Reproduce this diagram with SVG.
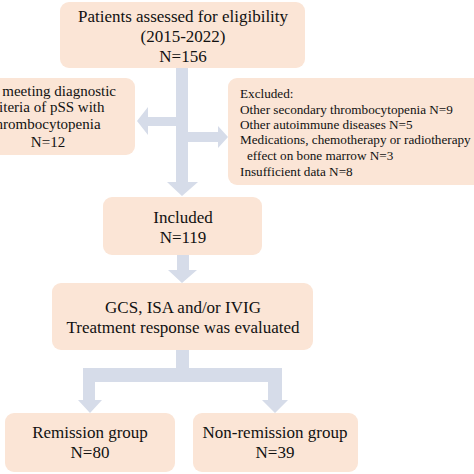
<svg xmlns="http://www.w3.org/2000/svg" width="474" height="474" viewBox="0 0 474 474">
<style>
.box{fill:#fbe5d6;}
.arr{fill:#d6dce9;}
text{font-family:"Liberation Serif","Times New Roman",serif;fill:#111;}
.t17{font-size:17px;text-anchor:middle;}
.t13{font-size:13.2px;}
.t15{font-size:15px;text-anchor:middle;}
</style>
<rect width="474" height="474" fill="#ffffff"/>
<g id="connectors">
<path class="arr" d="M176,68 H188 V182 H198 L182,196 L167,182 H176 Z"/>
<path class="arr" d="M176,117 V126 H148 V135 L137,121 L148,107 V117 Z"/>
<path class="arr" d="M188,132 V142 H218 V148 L228,137 L218,126 V132 Z"/>
<path class="arr" d="M177,255 H189 V270 H197 L182,283 L168,270 H177 Z"/>
<path class="arr" d="M176,350 H189 V368 H282 V400 H288 L275,413 L262,400 H268 V382 H95 V400 H102 L90,413 L78,400 H83 V368 H176 Z"/>
</g>
<g id="node-assessed">
<rect class="box" x="60" y="2" width="245" height="66" rx="9"/>
<text class="t17" x="183" y="22">Patients assessed for eligibility</text>
<text class="t17" x="183" y="42">(2015-2022)</text>
<text class="t17" x="183" y="62">N=156</text>
</g>
<g id="node-notmeeting">
<rect class="box" x="-45" y="78" width="180" height="77" rx="9"/>
<text class="t15" x="46" y="96">Not meeting diagnostic</text>
<text class="t15" x="46" y="112">criteria of pSS with</text>
<text class="t15" x="46" y="129">thrombocytopenia</text>
<text class="t15" x="48" y="147">N=12</text>
</g>
<g id="node-excluded">
<rect class="box" x="228" y="78" width="260" height="107" rx="9"/>
<text class="t13" x="240" y="98">Excluded:</text>
<text class="t13" x="240" y="114">Other secondary thrombocytopenia N=9</text>
<text class="t13" x="240" y="129">Other autoimmune diseases N=5</text>
<text class="t13" x="240" y="144">Medications, chemotherapy or radiotherapy</text>
<text class="t13" x="247" y="160">effect on bone marrow N=3</text>
<text class="t13" x="240" y="176">Insufficient data N=8</text>
</g>
<g id="node-included">
<rect class="box" x="103" y="197" width="159" height="58" rx="9"/>
<text class="t17" x="183" y="223">Included</text>
<text class="t17" x="183" y="243">N=119</text>
</g>
<g id="node-treatment">
<rect class="box" x="52" y="283" width="261" height="67" rx="9"/>
<text class="t17" x="183" y="313">GCS, ISA and/or IVIG</text>
<text class="t17" x="183" y="333">Treatment response was evaluated</text>
</g>
<g id="node-remission">
<rect class="box" x="5" y="413" width="170" height="59" rx="9"/>
<text class="t17" x="90" y="438">Remission group</text>
<text class="t17" x="90" y="458">N=80</text>
</g>
<g id="node-nonremission">
<rect class="box" x="193" y="413" width="165" height="59" rx="9"/>
<text class="t17" x="275" y="438">Non-remission group</text>
<text class="t17" x="275" y="458">N=39</text>
</g>
</svg>
